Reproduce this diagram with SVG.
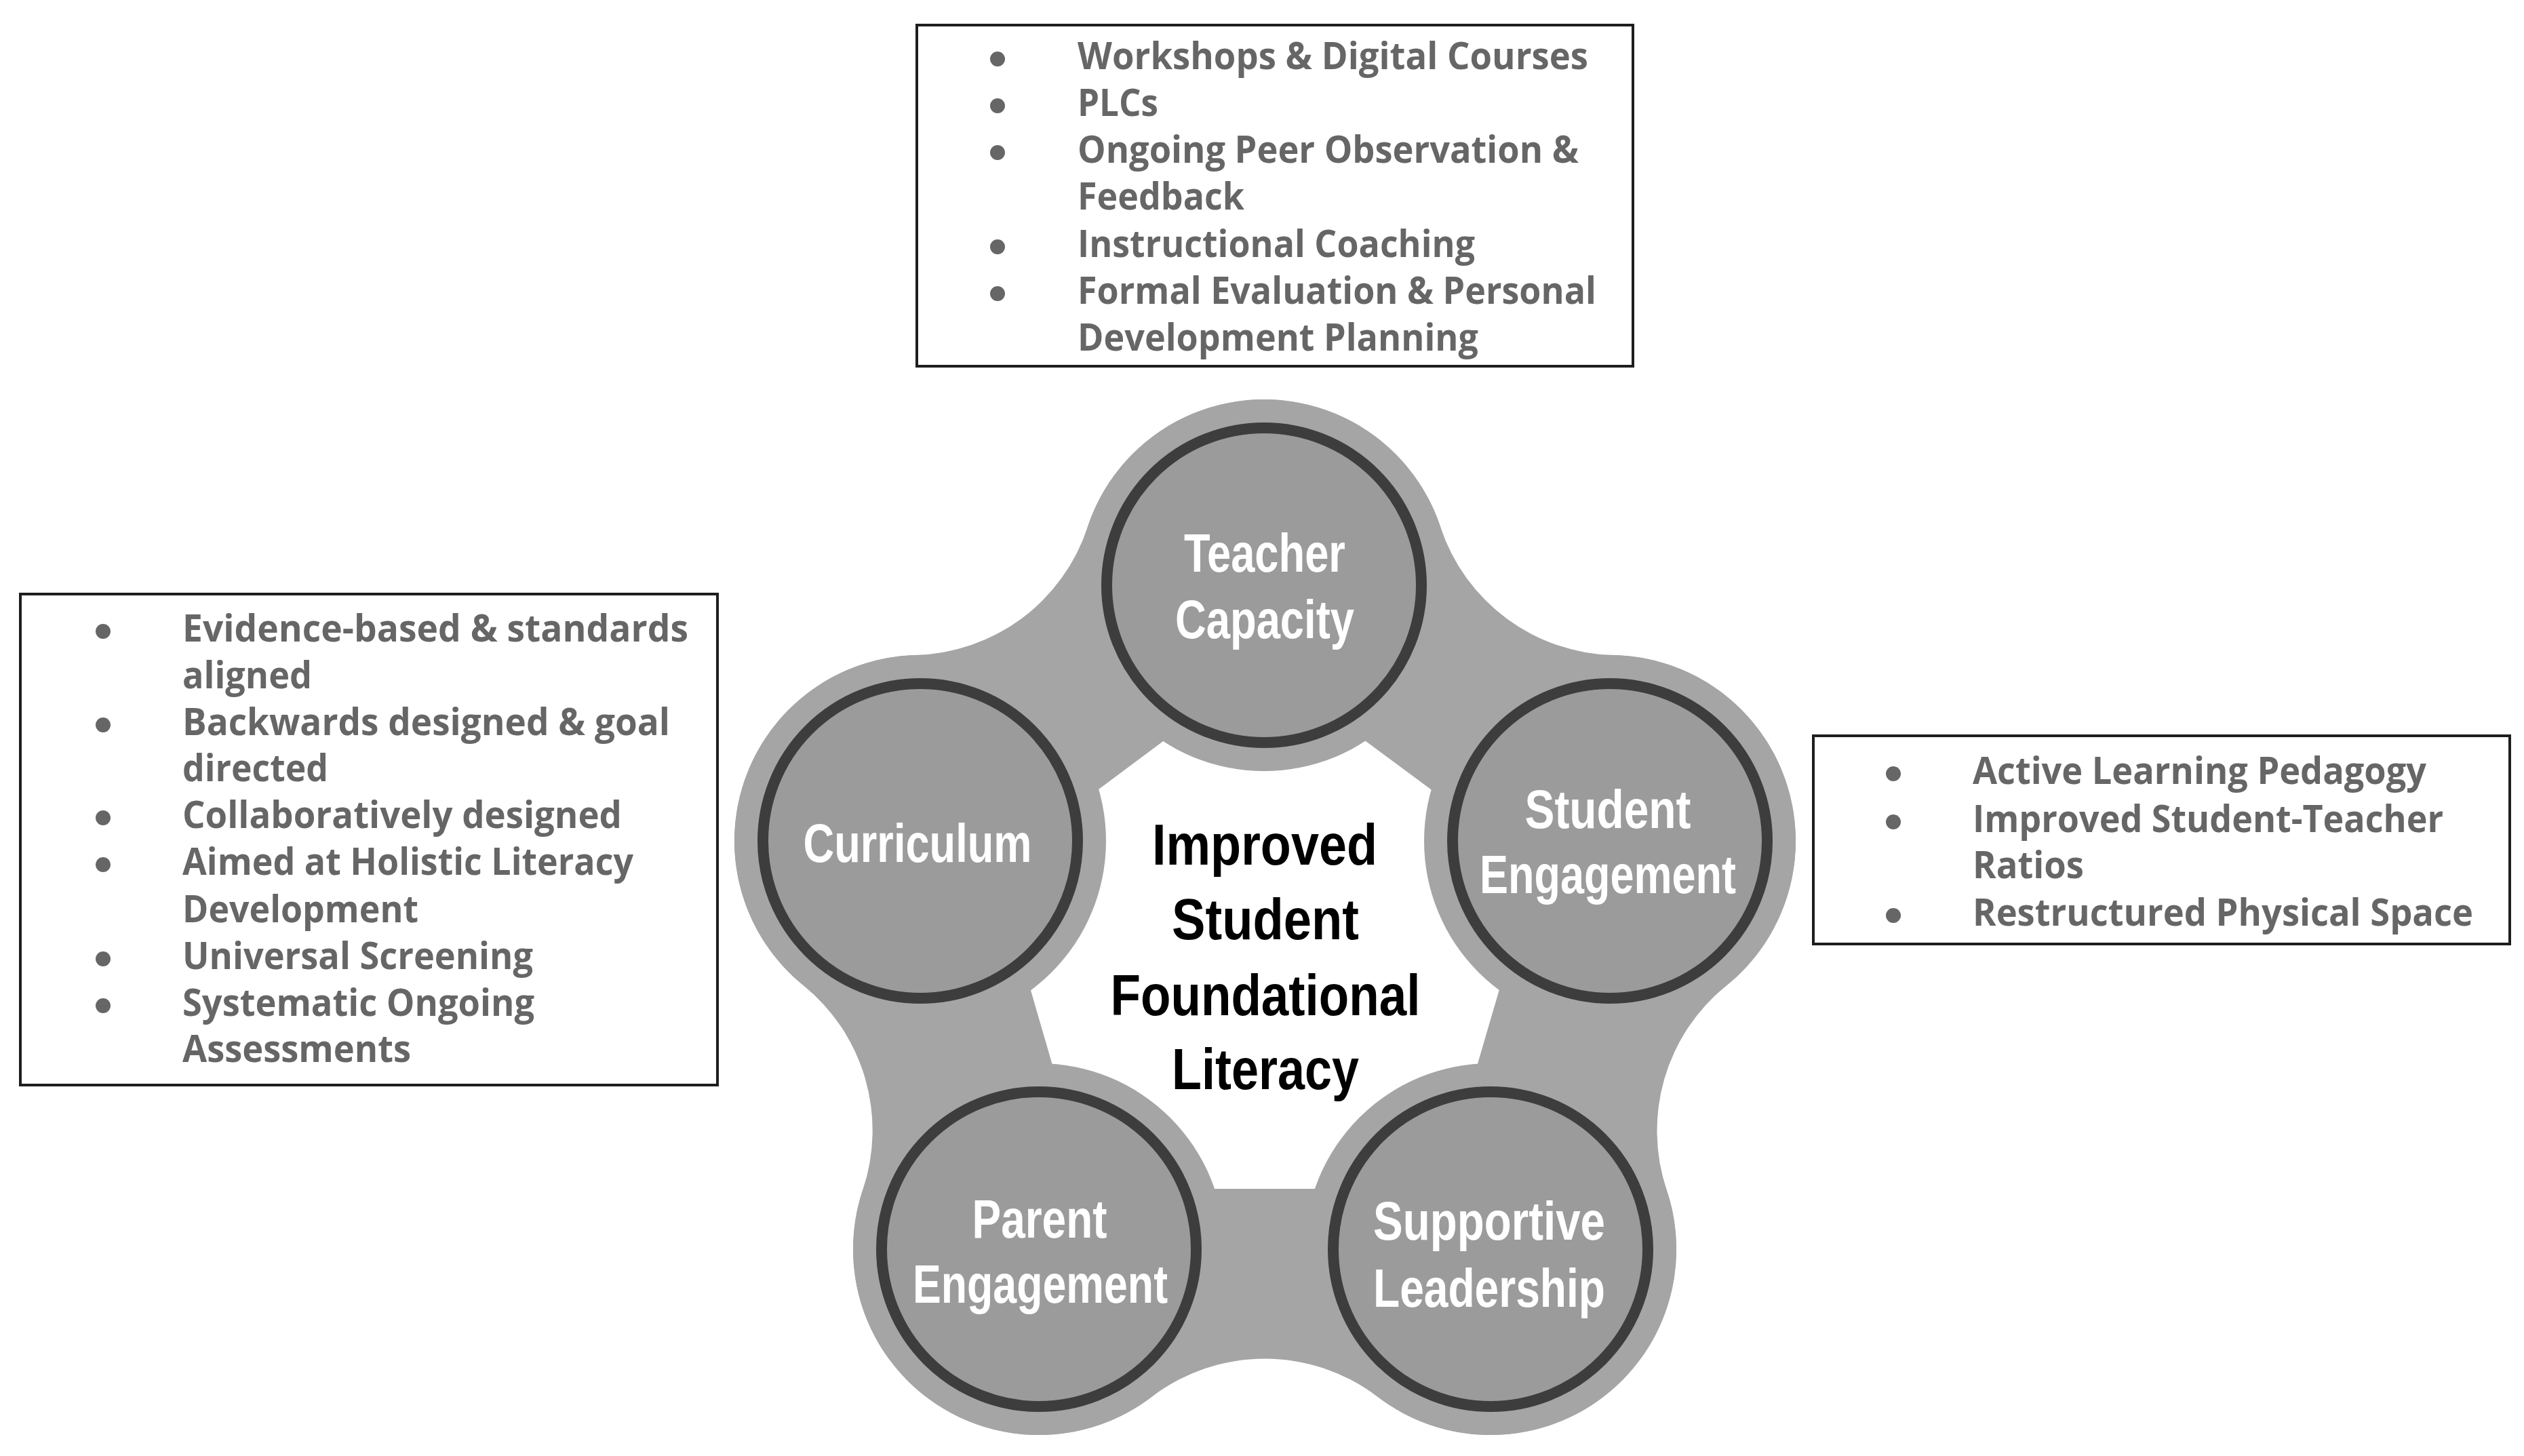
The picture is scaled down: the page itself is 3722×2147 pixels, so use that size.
<svg xmlns="http://www.w3.org/2000/svg" width="3722" height="2147" viewBox="0 0 3722 2147">
<style>
.box{fill:#ffffff;stroke:#1e1e1e;stroke-width:4}
.bt{font-family:"Open Sans","Liberation Sans",sans-serif;font-weight:700;font-size:55px;fill:#666666}
.bul{fill:#666666}
.blob{fill:#a5a5a5}
.ring{fill:#9b9b9b;stroke:#3d3d3d;stroke-width:16}
.ct{font-family:"Liberation Sans",Arial,sans-serif;font-weight:700;font-size:80px;fill:#ffffff;text-anchor:middle}
.mt{font-family:"Liberation Sans",Arial,sans-serif;font-weight:700;font-size:86px;fill:#000000;text-anchor:middle}
</style>
<rect width="3722" height="2147" fill="#ffffff"/>

<g id="blob">
<path class="blob" d="M 1603.8 777.3 A 274 274 0 0 1 2124.2 777.2 A 275 275 0 0 0 2379.7 966.0 A 274 274 0 0 1 2545.9 1453.3 A 275 275 0 0 0 2457.8 1754.9 A 274 274 0 0 1 2031.8 2059.9 A 275 275 0 0 0 1698.2 2059.9 A 274 274 0 0 1 1272.3 1754.6 A 275 275 0 0 0 1184.6 1453.0 A 274 274 0 0 1 1349.8 966.1 A 275 275 0 0 0 1603.8 777.3 Z"/>
<polygon fill="#ffffff" points="1864,982 2264,1278 2125,1753 1605,1753 1467,1278"/>
<circle class="blob" cx="1864" cy="863" r="274"/>
<circle class="blob" cx="2374" cy="1240" r="274"/>
<circle class="blob" cx="2198" cy="1842" r="274"/>
<circle class="blob" cx="1532" cy="1842" r="274"/>
<circle class="blob" cx="1357" cy="1240" r="274"/>
</g>

<g id="center">
<text class="mt" x="1865" y="1275" textLength="332" lengthAdjust="spacingAndGlyphs">Improved</text>
<text class="mt" x="1866" y="1385" textLength="276" lengthAdjust="spacingAndGlyphs">Student</text>
<text class="mt" x="1866" y="1497" textLength="457" lengthAdjust="spacingAndGlyphs">Foundational</text>
<text class="mt" x="1866" y="1606" textLength="276" lengthAdjust="spacingAndGlyphs">Literacy</text>
</g>

<g id="teacher-capacity">
<circle class="ring" cx="1864" cy="863" r="232"/>
<text class="ct" x="1865" y="843" textLength="238" lengthAdjust="spacingAndGlyphs">Teacher</text>
<text class="ct" x="1865" y="941" textLength="264" lengthAdjust="spacingAndGlyphs">Capacity</text>
</g>

<g id="curriculum">
<circle class="ring" cx="1357" cy="1240" r="232"/>
<text class="ct" x="1353" y="1271" textLength="337" lengthAdjust="spacingAndGlyphs">Curriculum</text>
</g>

<g id="student-engagement">
<circle class="ring" cx="2374" cy="1240" r="232"/>
<text class="ct" x="2371" y="1221" textLength="245" lengthAdjust="spacingAndGlyphs">Student</text>
<text class="ct" x="2371" y="1317" textLength="378" lengthAdjust="spacingAndGlyphs">Engagement</text>
</g>

<g id="parent-engagement">
<circle class="ring" cx="1532" cy="1842" r="232"/>
<text class="ct" x="1533" y="1825" textLength="199" lengthAdjust="spacingAndGlyphs">Parent</text>
<text class="ct" x="1534" y="1921" textLength="376" lengthAdjust="spacingAndGlyphs">Engagement</text>
</g>

<g id="supportive-leadership">
<circle class="ring" cx="2198" cy="1842" r="232"/>
<text class="ct" x="2196" y="1828" textLength="342" lengthAdjust="spacingAndGlyphs">Supportive</text>
<text class="ct" x="2196" y="1927" textLength="342" lengthAdjust="spacingAndGlyphs">Leadership</text>
</g>

<g id="teacher-box">
<rect class="box" x="1352" y="37" width="1056" height="503"/>
<circle class="bul" cx="1471" cy="87" r="11"/>
<circle class="bul" cx="1471" cy="156" r="11"/>
<circle class="bul" cx="1471" cy="225" r="11"/>
<circle class="bul" cx="1471" cy="364" r="11"/>
<circle class="bul" cx="1471" cy="433" r="11"/>
<text class="bt" x="1589" y="102" textLength="753" lengthAdjust="spacingAndGlyphs">Workshops &amp; Digital Courses</text>
<text class="bt" x="1589" y="171" textLength="119" lengthAdjust="spacingAndGlyphs">PLCs</text>
<text class="bt" x="1589" y="240" textLength="739" lengthAdjust="spacingAndGlyphs">Ongoing Peer Observation &amp;</text>
<text class="bt" x="1589" y="309" textLength="246" lengthAdjust="spacingAndGlyphs">Feedback</text>
<text class="bt" x="1589" y="379" textLength="586" lengthAdjust="spacingAndGlyphs">Instructional Coaching</text>
<text class="bt" x="1589" y="448" textLength="765" lengthAdjust="spacingAndGlyphs">Formal Evaluation &amp; Personal</text>
<text class="bt" x="1589" y="517" textLength="591" lengthAdjust="spacingAndGlyphs">Development Planning</text>
</g>

<g id="curriculum-box">
<rect class="box" x="30" y="876" width="1028" height="724"/>
<circle class="bul" cx="152" cy="931" r="11"/>
<circle class="bul" cx="152" cy="1069" r="11"/>
<circle class="bul" cx="152" cy="1206" r="11"/>
<circle class="bul" cx="152" cy="1275" r="11"/>
<circle class="bul" cx="152" cy="1414" r="11"/>
<circle class="bul" cx="152" cy="1483" r="11"/>
<text class="bt" x="269" y="946" textLength="746" lengthAdjust="spacingAndGlyphs">Evidence-based &amp; standards</text>
<text class="bt" x="269" y="1015" textLength="191" lengthAdjust="spacingAndGlyphs">aligned</text>
<text class="bt" x="269" y="1084" textLength="719" lengthAdjust="spacingAndGlyphs">Backwards designed &amp; goal</text>
<text class="bt" x="269" y="1152" textLength="215" lengthAdjust="spacingAndGlyphs">directed</text>
<text class="bt" x="269" y="1221" textLength="648" lengthAdjust="spacingAndGlyphs">Collaboratively designed</text>
<text class="bt" x="269" y="1290" textLength="665" lengthAdjust="spacingAndGlyphs">Aimed at Holistic Literacy</text>
<text class="bt" x="269" y="1360" textLength="348" lengthAdjust="spacingAndGlyphs">Development</text>
<text class="bt" x="269" y="1429" textLength="517" lengthAdjust="spacingAndGlyphs">Universal Screening</text>
<text class="bt" x="269" y="1498" textLength="519" lengthAdjust="spacingAndGlyphs">Systematic Ongoing</text>
<text class="bt" x="269" y="1566" textLength="337" lengthAdjust="spacingAndGlyphs">Assessments</text>
</g>

<g id="student-box">
<rect class="box" x="2674" y="1085" width="1027" height="307"/>
<circle class="bul" cx="2792" cy="1141" r="11"/>
<circle class="bul" cx="2792" cy="1212" r="11"/>
<circle class="bul" cx="2792" cy="1350" r="11"/>
<text class="bt" x="2909" y="1156" textLength="669" lengthAdjust="spacingAndGlyphs">Active Learning Pedagogy</text>
<text class="bt" x="2909" y="1227" textLength="694" lengthAdjust="spacingAndGlyphs">Improved Student-Teacher</text>
<text class="bt" x="2909" y="1295" textLength="164" lengthAdjust="spacingAndGlyphs">Ratios</text>
<text class="bt" x="2909" y="1365" textLength="738" lengthAdjust="spacingAndGlyphs">Restructured Physical Space</text>
</g>
</svg>
